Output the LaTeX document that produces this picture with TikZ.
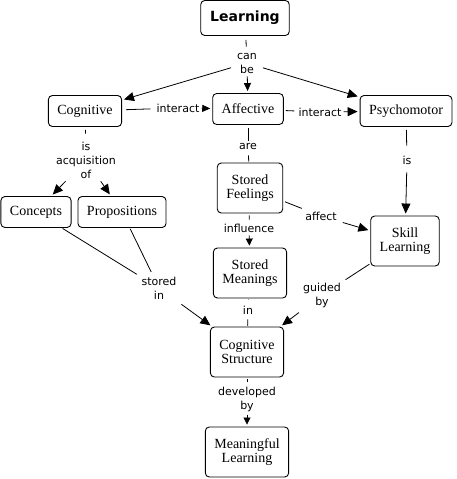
\documentclass[tikz,border=0pt]{standalone}
\usepackage{fontspec}
\setmainfont{Liberation Serif}
\newfontfamily\linkfont{DejaVu Sans}
\usetikzlibrary{arrows.meta}
\tikzset{
    concept/.style = {draw, rounded corners=4pt, line width=0.9pt, align=center,
        font=\fontsize{14}{14}\selectfont, inner xsep=9pt, minimum height=31pt},
    tall/.style = {minimum height=50pt},
    main/.style = {concept, font=\linkfont\bfseries\fontsize{14}{14}\selectfont,
        inner xsep=9.5pt, minimum height=35pt},
    link/.style = {align=center, inner sep=2pt, font=\linkfont\fontsize{11}{14}\selectfont},
    tie/.style = {line width=0.8pt, shorten <=4pt, shorten >=4pt},
    into/.style = {line width=0.8pt, -{Triangle[length=10pt,width=9pt]}, shorten <=4pt, shorten >=2pt}
}

\begin{document}
\begin{tikzpicture}[x=1pt,y=-1pt]
    \useasboundingbox (0,0) rectangle (456,479);
    % Conceptos
    \node [main] (learn) at (245,18) {Learning};
    \node [concept] (cog) at (85,111) {Cognitive};
    \node [concept] (aff) at (248,109) {Affective};
    \node [concept] (psy) at (406,111) {Psychomotor};
    \node [concept] (conc) at (36,212) {Concepts};
    \node [concept] (prop) at (122,212) {Propositions};
    \node [concept, tall] (sfeel) at (250,188) {Stored\\Feelings};
    \node [concept, tall] (skill) at (405,241) {Skill\\Learning};
    \node [concept, tall] (smean) at (250,273) {Stored\\Meanings};
    \node [concept, tall] (cstruct) at (247,352) {Cognitive\\Structure};
    \node [concept, tall] (mlearn) at (247,452) {Meaningful\\Learning};
    % Enlaces
    \node [link] (canbe) at (247,63) {can\\be};
    \node [link] (inter1) at (178,108) {interact};
    \node [link] (inter2) at (320,112) {interact};
    \node [link] (isacq) at (86,160) {is\\acquisition\\of};
    \node [link] (are) at (248,146) {are};
    \node [link] (is) at (407,160) {is};
    \node [link] (affect) at (321,216) {affect};
    \node [link] (infl) at (249,228) {influence};
    \node [link] (storedin) at (159,288) {stored\\in};
    \node [link] (guidedby) at (322,295) {guided\\by};
    \node [link] (in) at (248,310) {in};
    \node [link] (devby) at (247,399) {developed\\by};
    % Flechas
    \draw [tie] (learn) -- (canbe);
    \draw [into] (canbe) -- (cog);
    \draw [into, -{Triangle[length=8pt,width=7pt]}, shorten <=1pt] (canbe) -- (aff);
    \draw [into] (canbe) -- (psy);
    \draw [tie] (cog) -- (inter1);
    \draw [into, -{Triangle[length=8pt,width=7pt]}, shorten <=0pt] (inter1) -- (aff);
    \draw [tie, shorten <=2pt, shorten >=2pt] (aff) -- (inter2);
    \draw [into, shorten <=0pt] (inter2) -- (psy);
    \draw [tie, shorten <=3pt, shorten >=6pt] (cog) -- (isacq);
    \draw [into, shorten <=1pt] (isacq) -- (conc);
    \draw [into, shorten <=1pt] (isacq) -- (prop);
    \draw [tie, shorten <=3pt, shorten >=0pt] (aff) -- (are);
    \draw [tie, shorten >=1pt] (are) -- (sfeel);
    \draw [tie, shorten <=3pt, shorten >=8pt] (psy) -- (is);
    \draw [into, shorten <=6pt] (is) -- (skill);
    \draw [tie, shorten <=2pt, shorten >=3pt] (sfeel) -- (affect);
    \draw [into] (affect) -- (skill);
    \draw [tie, shorten <=2pt, shorten >=2pt] (sfeel) -- (infl);
    \draw [into, -{Triangle[length=7pt,width=7pt]}, shorten <=1pt] (infl) -- (smean);
    \draw [tie, shorten <=1pt, shorten >=3pt] (conc) -- (storedin);
    \draw [tie, shorten <=1pt, shorten >=3pt] (prop) -- (storedin);
    \draw [into, shorten <=5pt] (storedin) -- (cstruct);
    \draw [tie, shorten <=1pt, shorten >=3pt] (skill) -- (guidedby);
    \draw [into, shorten <=5pt] (guidedby) -- (cstruct);
    \draw [tie, shorten <=1pt, shorten >=4pt] (smean) -- (in);
    \draw [tie, shorten <=3pt, shorten >=1pt] (in) -- (cstruct);
    \draw [tie, shorten <=2pt, shorten >=2pt] (cstruct) -- (devby);
    \draw [into, -{Triangle[length=7pt,width=7pt]}, shorten <=1pt] (devby) -- (mlearn);
\end{tikzpicture}
\end{document}
